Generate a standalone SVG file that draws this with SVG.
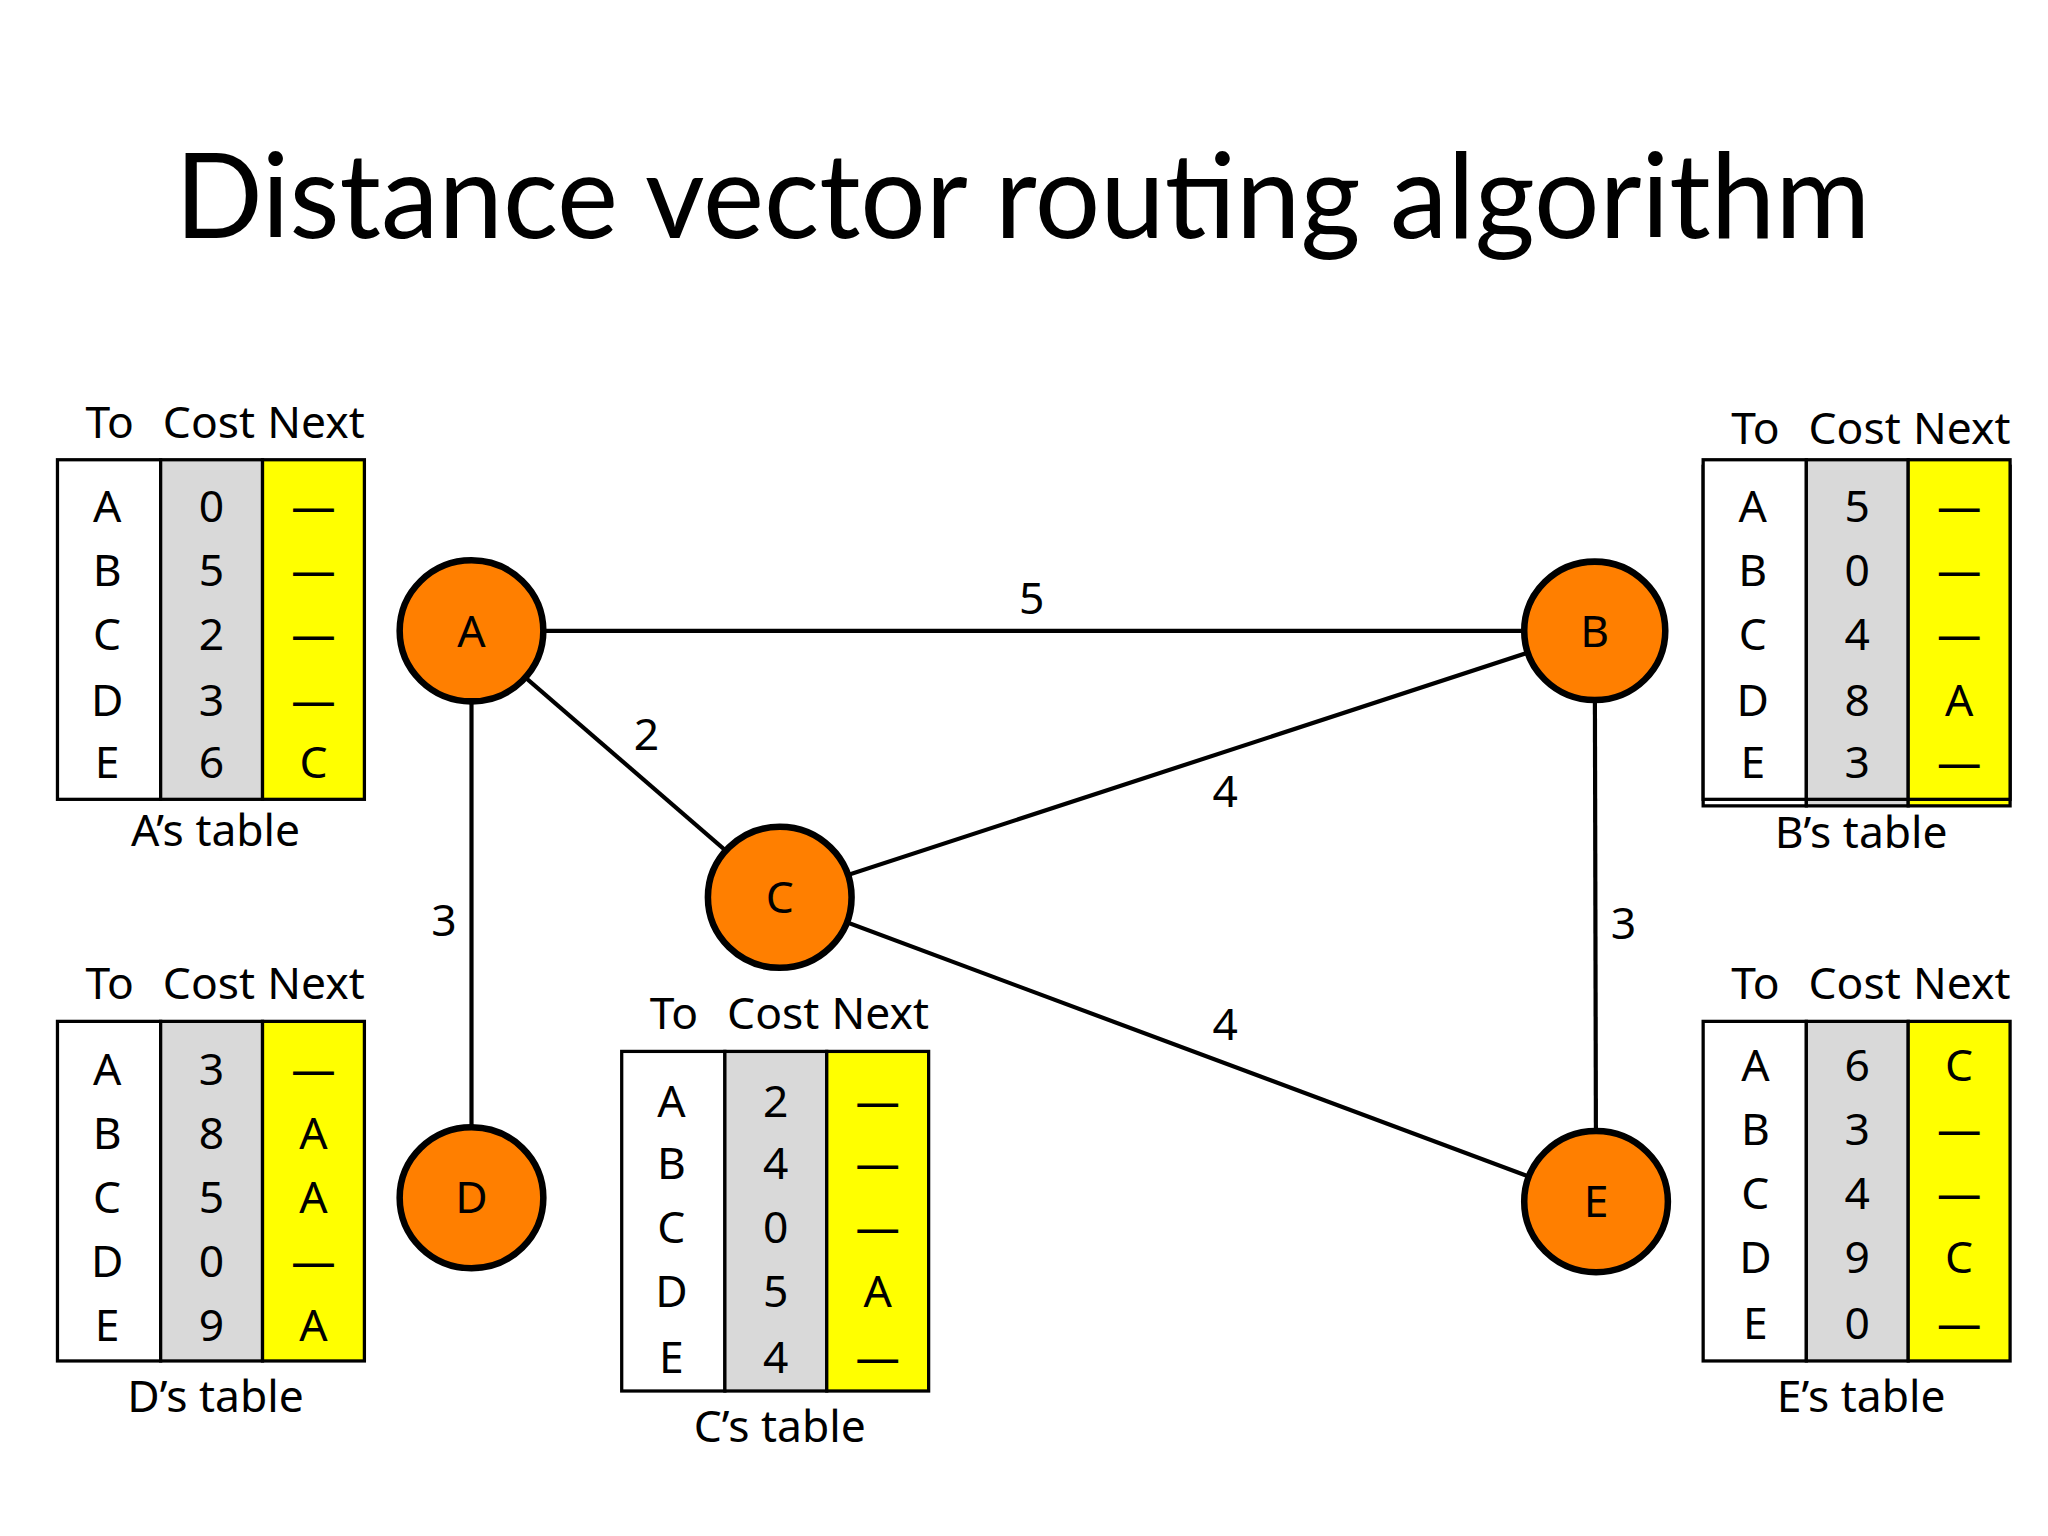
<svg xmlns="http://www.w3.org/2000/svg" width="2048" height="1536" viewBox="0 0 2048 1536">
<style>
.t{font-family:"Noto Sans","Open Sans",sans-serif;font-size:34px;fill:#000;text-anchor:middle}
.c1{fill:#fff;stroke:#000;stroke-width:2.5}
.c2{fill:#d9d9d9;stroke:#000;stroke-width:2.5}
.c3{fill:#ffff00;stroke:#000;stroke-width:2.5}
.n{fill:#ff7f00;stroke:#000;stroke-width:5}
.e{stroke:#000;stroke-width:3.2;fill:none}
</style>
<defs>
<g id="frame">
<rect class="c1" x="0" y="0" width="79" height="260"/>
<rect class="c2" x="79" y="0" width="78" height="260"/>
<rect class="c3" x="157" y="0" width="78" height="260"/>
<text class="t" x="40" y="-17">To</text><text class="t" x="116" y="-17">Cost</text><text class="t" x="198" y="-17">Next</text>
</g>
</defs>
<rect width="2048" height="1536" fill="#fff"/>
<g transform="scale(1.3061)">
<text x="783" y="182" font-family="Lato,'Open Sans',sans-serif" font-size="90" text-anchor="middle" textLength="1298" lengthAdjust="spacingAndGlyphs">Distance vector routing algorithm</text>
<g id="connectors">
<line class="e" x1="361" y1="483" x2="1221" y2="483"/>
<line class="e" x1="361" y1="483" x2="597" y2="687"/>
<line class="e" x1="361" y1="483" x2="361" y2="917"/>
<line class="e" x1="1221" y1="483" x2="597" y2="687"/>
<line class="e" x1="1221" y1="483" x2="1222" y2="920"/>
<line class="e" x1="597" y1="687" x2="1222" y2="920"/>
<text class="t" x="790" y="470">5</text>
<text class="t" x="495" y="574">2</text>
<text class="t" x="340" y="717">3</text>
<text class="t" x="938" y="618">4</text>
<text class="t" x="1243" y="719">3</text>
<text class="t" x="938" y="796">4</text>
</g>
<g id="nodeA"><ellipse class="n" cx="361" cy="483" rx="55" ry="54"/><text class="t" x="361" y="495">A</text></g>
<g id="nodeB"><ellipse class="n" cx="1221" cy="483" rx="54" ry="53"/><text class="t" x="1221" y="495">B</text></g>
<g id="nodeC"><ellipse class="n" cx="597" cy="687" rx="55" ry="54"/><text class="t" x="597" y="699">C</text></g>
<g id="nodeD"><ellipse class="n" cx="361" cy="917" rx="55" ry="54"/><text class="t" x="361" y="929">D</text></g>
<g id="nodeE"><ellipse class="n" cx="1222" cy="920" rx="55" ry="54"/><text class="t" x="1222" y="932">E</text></g>

<g id="tableA" transform="translate(44,352)"><use href="#frame"/>
<g class="t"><text class="t" x="38" y="48">A</text><text class="t" x="38" y="97">B</text><text class="t" x="38" y="146">C</text><text class="t" x="38" y="196">D</text><text class="t" x="38" y="244">E</text>
<text class="t" x="118" y="48">0</text><text class="t" x="118" y="97">5</text><text class="t" x="118" y="146">2</text><text class="t" x="118" y="196">3</text><text class="t" x="118" y="244">6</text>
<text class="t" x="196" y="48">—</text><text class="t" x="196" y="97">—</text><text class="t" x="196" y="146">—</text><text class="t" x="196" y="196">—</text><text class="t" x="196" y="244">C</text></g>
<text class="t" x="121" y="296">A’s table</text></g>

<g id="tableB" transform="translate(1304,352)"><use href="#frame" transform="translate(0,5)"/>
<rect class="c1" x="0" y="0" width="79" height="260"/><rect class="c2" x="79" y="0" width="78" height="260"/><rect class="c3" x="157" y="0" width="78" height="260"/>
<text class="t" x="38" y="48">A</text><text class="t" x="38" y="97">B</text><text class="t" x="38" y="146">C</text><text class="t" x="38" y="196">D</text><text class="t" x="38" y="244">E</text>
<text class="t" x="118" y="48">5</text><text class="t" x="118" y="97">0</text><text class="t" x="118" y="146">4</text><text class="t" x="118" y="196">8</text><text class="t" x="118" y="244">3</text>
<text class="t" x="196" y="48">—</text><text class="t" x="196" y="97">—</text><text class="t" x="196" y="146">—</text><text class="t" x="196" y="196">A</text><text class="t" x="196" y="244">—</text>
<text class="t" x="121" y="297">B’s table</text></g>

<g id="tableD" transform="translate(44,782)"><use href="#frame"/>
<text class="t" x="38" y="49">A</text><text class="t" x="38" y="98">B</text><text class="t" x="38" y="147">C</text><text class="t" x="38" y="196">D</text><text class="t" x="38" y="245">E</text>
<text class="t" x="118" y="49">3</text><text class="t" x="118" y="98">8</text><text class="t" x="118" y="147">5</text><text class="t" x="118" y="196">0</text><text class="t" x="118" y="245">9</text>
<text class="t" x="196" y="49">—</text><text class="t" x="196" y="98">A</text><text class="t" x="196" y="147">A</text><text class="t" x="196" y="196">—</text><text class="t" x="196" y="245">A</text>
<text class="t" x="121" y="299">D’s table</text></g>

<g id="tableC" transform="translate(476,805)"><use href="#frame"/>
<text class="t" x="38" y="50">A</text><text class="t" x="38" y="98">B</text><text class="t" x="38" y="147">C</text><text class="t" x="38" y="196">D</text><text class="t" x="38" y="246">E</text>
<text class="t" x="118" y="50">2</text><text class="t" x="118" y="98">4</text><text class="t" x="118" y="147">0</text><text class="t" x="118" y="196">5</text><text class="t" x="118" y="246">4</text>
<text class="t" x="196" y="50">—</text><text class="t" x="196" y="98">—</text><text class="t" x="196" y="147">—</text><text class="t" x="196" y="196">A</text><text class="t" x="196" y="246">—</text>
<text class="t" x="121" y="299">C’s table</text></g>

<g id="tableE" transform="translate(1304,782)"><use href="#frame"/>
<text class="t" x="40" y="46">A</text><text class="t" x="40" y="95">B</text><text class="t" x="40" y="144">C</text><text class="t" x="40" y="193">D</text><text class="t" x="40" y="243">E</text>
<text class="t" x="118" y="46">6</text><text class="t" x="118" y="95">3</text><text class="t" x="118" y="144">4</text><text class="t" x="118" y="193">9</text><text class="t" x="118" y="243">0</text>
<text class="t" x="196" y="46">C</text><text class="t" x="196" y="95">—</text><text class="t" x="196" y="144">—</text><text class="t" x="196" y="193">C</text><text class="t" x="196" y="243">—</text>
<text class="t" x="121" y="299">E’s table</text></g>
</g>
</svg>
